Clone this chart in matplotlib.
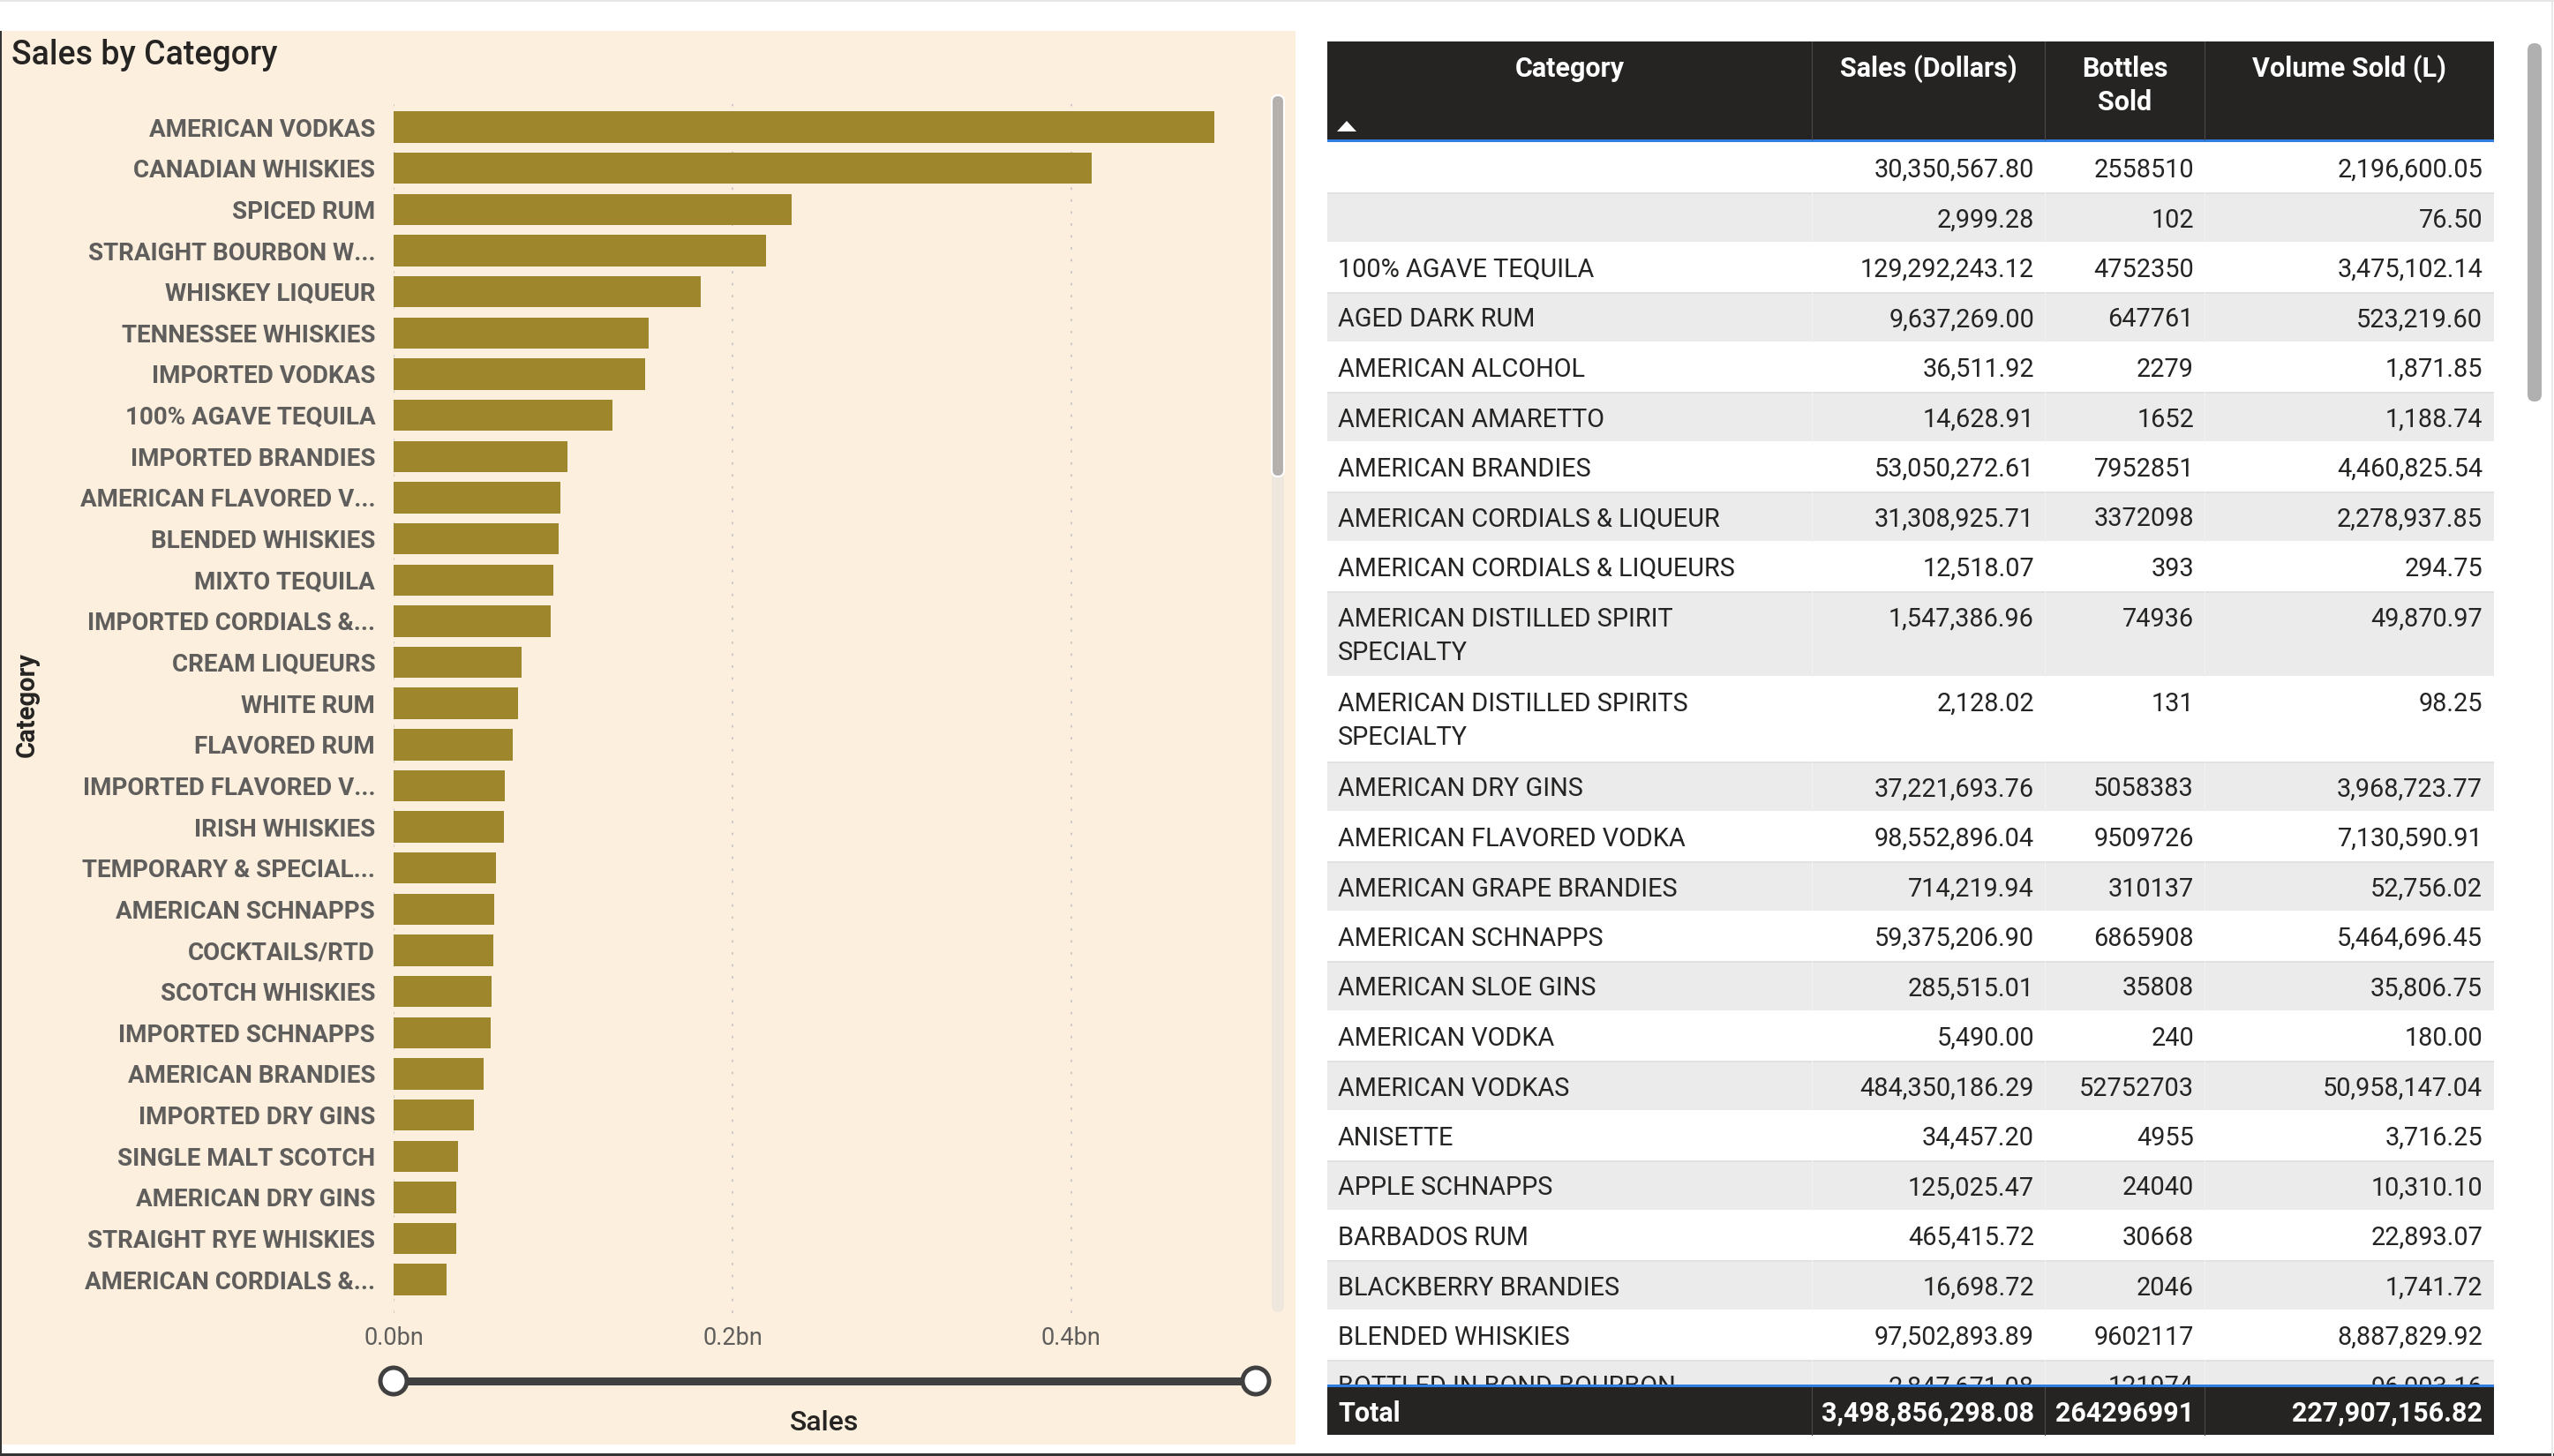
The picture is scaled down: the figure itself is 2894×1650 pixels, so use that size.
import matplotlib
matplotlib.use("Agg")
import matplotlib.pyplot as plt
from matplotlib.patches import Rectangle, Circle, Polygon, FancyBboxPatch

# ---- data ----
chart_categories = ['AMERICAN VODKAS', 'CANADIAN WHISKIES', 'SPICED RUM', 'STRAIGHT BOURBON W...',
                    'WHISKEY LIQUEUR', 'TENNESSEE WHISKIES', 'IMPORTED VODKAS', '100% AGAVE TEQUILA',
                    'IMPORTED BRANDIES', 'AMERICAN FLAVORED V...', 'BLENDED WHISKIES', 'MIXTO TEQUILA',
                    'IMPORTED CORDIALS &...', 'CREAM LIQUEURS', 'WHITE RUM', 'FLAVORED RUM',
                    'IMPORTED FLAVORED V...', 'IRISH WHISKIES', 'TEMPORARY & SPECIAL...', 'AMERICAN SCHNAPPS',
                    'COCKTAILS/RTD', 'SCOTCH WHISKIES', 'IMPORTED SCHNAPPS', 'AMERICAN BRANDIES',
                    'IMPORTED DRY GINS', 'SINGLE MALT SCOTCH', 'AMERICAN DRY GINS', 'STRAIGHT RYE WHISKIES',
                    'AMERICAN CORDIALS &...']
chart_sales_bn = [0.4844, 0.4122, 0.2349, 0.2198, 0.1813, 0.1505, 0.1486, 0.1293,
                  0.1026, 0.0986, 0.0975, 0.0944, 0.0929, 0.0753, 0.0734, 0.0704,
                  0.0656, 0.0651, 0.0602, 0.0594, 0.0587, 0.0578, 0.0572, 0.0531,
                  0.0475, 0.0382, 0.0372, 0.0368, 0.0313]
x_ticks = [0.0, 0.2, 0.4]
x_tick_labels = ['0.0bn', '0.2bn', '0.4bn']

table_headers = ['Category', 'Sales (Dollars)', 'Bottles\nSold', 'Volume Sold (L)']
table_category = ['', '', '100% AGAVE TEQUILA', 'AGED DARK RUM', 'AMERICAN ALCOHOL', 'AMERICAN AMARETTO',
                  'AMERICAN BRANDIES', 'AMERICAN CORDIALS & LIQUEUR', 'AMERICAN CORDIALS & LIQUEURS',
                  'AMERICAN DISTILLED SPIRIT\nSPECIALTY', 'AMERICAN DISTILLED SPIRITS\nSPECIALTY',
                  'AMERICAN DRY GINS', 'AMERICAN FLAVORED VODKA', 'AMERICAN GRAPE BRANDIES',
                  'AMERICAN SCHNAPPS', 'AMERICAN SLOE GINS', 'AMERICAN VODKA', 'AMERICAN VODKAS',
                  'ANISETTE', 'APPLE SCHNAPPS', 'BARBADOS RUM', 'BLACKBERRY BRANDIES', 'BLENDED WHISKIES',
                  'BOTTLED IN BOND BOURBON']
table_sales = [30350567.80, 2999.28, 129292243.12, 9637269.00, 36511.92, 14628.91,
               53050272.61, 31308925.71, 12518.07, 1547386.96, 2128.02,
               37221693.76, 98552896.04, 714219.94, 59375206.90, 285515.01, 5490.00,
               484350186.29, 34457.20, 125025.47, 465415.72, 16698.72, 97502893.89, 2847671.08]
table_bottles = [2558510, 102, 4752350, 647761, 2279, 1652, 7952851, 3372098, 393, 74936, 131,
                 5058383, 9509726, 310137, 6865908, 35808, 240, 52752703, 4955, 24040, 30668,
                 2046, 9602117, 121974]
table_volume = [2196600.05, 76.50, 3475102.14, 523219.60, 1871.85, 1188.74, 4460825.54,
                2278937.85, 294.75, 49870.97, 98.25, 3968723.77, 7130590.91, 52756.02,
                5464696.45, 35806.75, 180.00, 50958147.04, 3716.25, 10310.10, 22893.07,
                1741.72, 8887829.92, 96003.16]
total_sales = 3498856298.08
total_bottles = 264296991
total_volume = 227907156.82

# ---- style ----
W, H = 2894, 1650
FONT = 'Roboto'
beige = '#FCEFDD'
bar_color = '#9E862C'
label_gray = '#5F5E5C'
dark = '#252423'

fig = plt.figure(figsize=(W / 100, H / 100), dpi=100)
fig.patch.set_facecolor('white')

bg = fig.add_axes([0, 0, 1, 1])
bg.set_xlim(0, W)
bg.set_ylim(H, 0)
bg.axis('off')
bg.set_zorder(0)


def px_axes(x0, y0, x1, y1):
    return fig.add_axes([x0 / W, 1 - y1 / H, (x1 - x0) / W, (y1 - y0) / H])


# page borders
bg.add_patch(Rectangle((0, 0), W, 2, color='#E6E6E6', lw=0))
bg.add_patch(Rectangle((0, 35), 2, H - 35, color='#333333', lw=0))
bg.add_patch(Rectangle((0, 1647), W, 3, color='#333333', lw=0))
bg.add_patch(Rectangle((2891, 0), 2, H, color='#E8E8E8', lw=0))

# ---- left panel: bar chart ----
bg.add_patch(Rectangle((2, 35), 1466, 1602, color=beige, lw=0))
bg.text(13, 73, 'Sales by Category', fontsize=27, family=FONT, weight='medium',
        color=dark, ha='left', va='baseline')
bg.text(31, 799, 'Category', fontsize=21, family=FONT, weight='bold', color=dark,
        rotation=90, ha='center', va='center')
bg.text(934, 1621, 'Sales', fontsize=23, family=FONT, weight='medium', color=dark,
        ha='center', va='baseline')

ax = px_axes(446, 118, 1423, 1488)
ax.set_zorder(1)
ax.patch.set_alpha(0)
ypos = list(range(len(chart_categories)))
ax.barh(ypos, chart_sales_bn, height=0.76, color=bar_color, zorder=2)
ax.set_xlim(0, 0.5089)
ax.set_ylim(len(chart_categories) - 0.19, -0.56)
ax.set_yticks(ypos)
ax.set_yticklabels(chart_categories, fontsize=20, family=FONT, weight='bold', color=label_gray)
ax.set_xticks(x_ticks)
ax.set_xticklabels(x_tick_labels, fontsize=19.5, family=FONT, color=label_gray)
ax.tick_params(axis='y', length=0, pad=15)
ax.tick_params(axis='x', length=0, pad=10.5)
for s in ax.spines.values():
    s.set_visible(False)
ax.grid(axis='x', color='#C8C6C4', linestyle=(0, (1.5, 6)), lw=1.3, zorder=0)
ax.set_axisbelow(True)

# scrollbar in the chart
bg.add_patch(FancyBboxPatch((1441, 108), 14, 1379, boxstyle='round,pad=0,rounding_size=7',
                            fc='#EEE7DD', ec='none'))
bg.add_patch(FancyBboxPatch((1441, 108), 14, 432, boxstyle='round,pad=0,rounding_size=7',
                            fc='#B3B0AD', ec='white', lw=1.5))

# range slider under the chart
bg.plot([446, 1423], [1565, 1565], color='#404040', lw=6.5, solid_capstyle='butt', zorder=3)
for cx in (446, 1423):
    bg.add_patch(Circle((cx, 1565), 15, fc='white', ec='#404040', lw=3.6, zorder=4))

# ---- right panel: table ----
tx0, tx1 = 1504, 2826
col_edges = [1504, 2053, 2317, 2498, 2826]
right_x = [2305, 2486, 2813]
head_top, head_bot = 47, 158

bg.add_patch(Rectangle((tx0, head_top), tx1 - tx0, head_bot - head_top, color=dark, lw=0))
for cxe in col_edges[1:-1]:
    bg.plot([cxe, cxe], [head_top, head_bot], color='#4A4948', lw=0.8)
bg.add_patch(Rectangle((tx0, head_bot), tx1 - tx0, 3, color='#2F7DE1', lw=0))
for i, hdr in enumerate(table_headers):
    cx = (col_edges[i] + col_edges[i + 1]) / 2
    for j, line in enumerate(hdr.split('\n')):
        bg.text(cx, 87 + 38 * j, line, fontsize=22, family=FONT, weight='bold', color='white',
                ha='center', va='baseline')
bg.add_patch(Polygon([(1515, 149), (1537, 149), (1526, 137)], closed=True, fc='white', ec='none'))

row_top = 161
for i, cat in enumerate(table_category):
    lines = cat.split('\n')
    h = 56.5 if len(lines) == 1 else 96.5
    if i % 2 == 1:
        bg.add_patch(Rectangle((tx0, row_top), tx1 - tx0, h, color='#EBEBEB', lw=0))
        bg.add_patch(Rectangle((tx0, row_top), tx1 - tx0, 2, color='#E1E1E1', lw=0))
        for cxe in col_edges[1:-1]:
            bg.plot([cxe, cxe], [row_top, row_top + h], color='#F2F2F2', lw=0.8)
    base = row_top + 40
    for j, line in enumerate(lines):
        bg.text(1516, base + 38 * j, line, fontsize=20.8, family=FONT, color=dark,
                ha='left', va='baseline')
    vals = ['{:,.2f}'.format(table_sales[i]), str(table_bottles[i]), '{:,.2f}'.format(table_volume[i])]
    for rx, v in zip(right_x, vals):
        bg.text(rx, base, v, fontsize=20.8, family=FONT, color=dark, ha='right', va='baseline')
    row_top += h

# total row (drawn over the partial last row)
bg.add_patch(Rectangle((tx0, 1569), tx1 - tx0, 3, color='#2F7DE1', lw=0, zorder=6))
bg.add_patch(Rectangle((tx0, 1572), tx1 - tx0, 54, color=dark, lw=0, zorder=6))
bg.add_patch(Rectangle((tx0, 1626), tx1 - tx0, 21, color='white', lw=0, zorder=6))
for cxe in col_edges[1:-1]:
    bg.plot([cxe, cxe], [1572, 1626], color='#4A4948', lw=0.8, zorder=7)
bg.text(1516, 1611, 'Total', fontsize=22, family=FONT, weight='bold', color='white',
        ha='left', va='baseline', zorder=8)
tot_vals = ['{:,.2f}'.format(total_sales), str(total_bottles), '{:,.2f}'.format(total_volume)]
for rx, v in zip(right_x, tot_vals):
    bg.text(rx, 1611, v, fontsize=22, family=FONT, weight='bold', color='white',
            ha='right', va='baseline', zorder=8)

# table scrollbar
bg.add_patch(FancyBboxPatch((2864, 49), 16, 406, boxstyle='round,pad=0,rounding_size=8',
                            fc='#B0B0B0', ec='none'))

fig.savefig('out.png', dpi=100, facecolor='white')
